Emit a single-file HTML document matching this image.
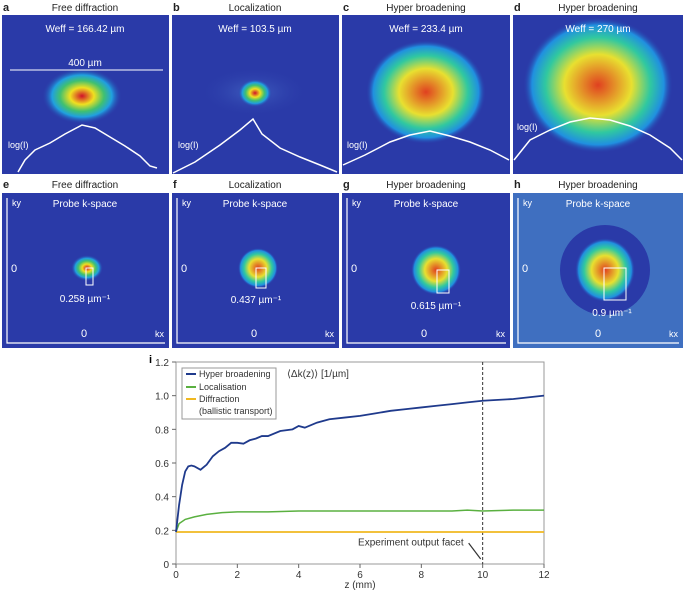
<!DOCTYPE html>
<html><head><meta charset="utf-8"><style>
body{margin:0;background:#fff;width:685px;height:595px;overflow:hidden;font-family:"Liberation Sans",sans-serif}
svg{display:block}
</style></head><body>
<svg width="685" height="595" viewBox="0 0 685 595" xmlns="http://www.w3.org/2000/svg">
<defs>
<radialGradient id="blob"><stop offset="0" stop-color="#d0102a"/><stop offset="0.3" stop-color="#f0e020"/><stop offset="0.55" stop-color="#40c070"/><stop offset="0.75" stop-color="#20a0e0"/><stop offset="1" stop-color="#2a3aa8" stop-opacity="0"/></radialGradient>
<radialGradient id="blobd"><stop offset="0" stop-color="#e04020"/><stop offset="0.45" stop-color="#e8e030"/><stop offset="0.7" stop-color="#30c8a0"/><stop offset="0.88" stop-color="#2090e0"/><stop offset="1" stop-color="#2a3aa8" stop-opacity="0"/></radialGradient>
<radialGradient id="halo"><stop offset="0" stop-color="#4060c0"/><stop offset="1" stop-color="#2a3aa8" stop-opacity="0"/></radialGradient>
</defs>
<g font-size="10" fill="#222">
<text x="3" y="11" font-weight="bold" font-size="11">a</text><text x="85" y="11" text-anchor="middle">Free diffraction</text>
<text x="173" y="11" font-weight="bold" font-size="11">b</text><text x="255" y="11" text-anchor="middle">Localization</text>
<text x="343" y="11" font-weight="bold" font-size="11">c</text><text x="426" y="11" text-anchor="middle">Hyper broadening</text>
<text x="514" y="11" font-weight="bold" font-size="11">d</text><text x="598" y="11" text-anchor="middle">Hyper broadening</text>
<text x="3" y="188" font-weight="bold" font-size="11">e</text><text x="85" y="188" text-anchor="middle">Free diffraction</text>
<text x="173" y="188" font-weight="bold" font-size="11">f</text><text x="255" y="188" text-anchor="middle">Localization</text>
<text x="343" y="188" font-weight="bold" font-size="11">g</text><text x="426" y="188" text-anchor="middle">Hyper broadening</text>
<text x="514" y="188" font-weight="bold" font-size="11">h</text><text x="598" y="188" text-anchor="middle">Hyper broadening</text>
</g>
<g>
<rect x="2" y="15" width="167" height="159" fill="#2a3aa8"/>
<ellipse cx="82" cy="96" rx="40" ry="28" fill="url(#blob)"/>
<text x="85" y="32" fill="#fff" font-size="10" text-anchor="middle">Weff = 166.42 µm</text>
<line x1="10" y1="70" x2="163" y2="70" stroke="#fff" stroke-width="1"/>
<text x="85" y="66" fill="#fff" font-size="10" text-anchor="middle">400 µm</text>
<text x="8" y="148" fill="#fff" font-size="9">log(I)</text>
<polyline points="18,172 25,160 35,150 50,143 65,134 82,125 95,128 110,137 125,146 140,156 150,166 157,168" fill="none" stroke="#fff" stroke-width="1.5"/>
</g>
<g>
<rect x="172" y="15" width="167" height="159" fill="#2a3aa8"/>
<ellipse cx="254" cy="92" rx="55" ry="25" fill="url(#halo)"/>
<ellipse cx="255" cy="93" rx="17" ry="14" fill="url(#blob)"/>
<text x="255" y="32" fill="#fff" font-size="10" text-anchor="middle">Weff = 103.5 µm</text>
<text x="178" y="148" fill="#fff" font-size="9">log(I)</text>
<polyline points="173,173 195,162 220,145 240,130 253,119 262,134 280,148 300,157 320,165 337,172" fill="none" stroke="#fff" stroke-width="1.5"/>
</g>
<g>
<rect x="342" y="15" width="168" height="159" fill="#2a3aa8"/>
<ellipse cx="426" cy="92" rx="60" ry="52" fill="url(#blobd)"/>
<text x="426" y="32" fill="#fff" font-size="10" text-anchor="middle">Weff = 233.4 µm</text>
<text x="347" y="148" fill="#fff" font-size="9">log(I)</text>
<polyline points="343,165 365,155 390,142 410,135 430,131 450,136 470,142 490,150 509,160" fill="none" stroke="#fff" stroke-width="1.5"/>
</g>
<g>
<rect x="513" y="15" width="170" height="159" fill="#2a3aa8"/>
<ellipse cx="598" cy="85" rx="75" ry="68" fill="url(#blobd)"/>
<text x="598" y="32" fill="#fff" font-size="10" text-anchor="middle">Weff = 270 µm</text>
<text x="517" y="130" fill="#fff" font-size="9">log(I)</text>
<polyline points="514,160 530,140 550,130 570,122 590,118 610,120 630,126 650,135 670,148 682,160" fill="none" stroke="#fff" stroke-width="1.5"/>
</g>
<g>
<rect x="2" y="193" width="167" height="155" fill="#2a3aa8"/>
<ellipse cx="87" cy="268" rx="16" ry="13" fill="url(#blob)"/>
<rect x="86" y="268" width="7" height="17" fill="none" stroke="#fff"/>
<text x="85" y="302" fill="#fff" font-size="10" text-anchor="middle">0.258 µm⁻¹</text>
<text x="85" y="207" fill="#fff" font-size="10" text-anchor="middle">Probe k-space</text>
</g>
<g>
<rect x="172" y="193" width="167" height="155" fill="#2a3aa8"/>
<ellipse cx="258" cy="268" rx="20" ry="20" fill="url(#blobd)"/>
<rect x="256" y="268" width="10" height="20" fill="none" stroke="#fff"/>
<text x="256" y="303" fill="#fff" font-size="10" text-anchor="middle">0.437 µm⁻¹</text>
<text x="255" y="207" fill="#fff" font-size="10" text-anchor="middle">Probe k-space</text>
</g>
<g>
<rect x="342" y="193" width="168" height="155" fill="#2a3aa8"/>
<ellipse cx="436" cy="270" rx="25" ry="25" fill="url(#blobd)"/>
<rect x="437" y="270" width="12" height="23" fill="none" stroke="#fff"/>
<text x="436" y="309" fill="#fff" font-size="10" text-anchor="middle">0.615 µm⁻¹</text>
<text x="426" y="207" fill="#fff" font-size="10" text-anchor="middle">Probe k-space</text>
</g>
<g>
<rect x="513" y="193" width="170" height="155" fill="#3f6fc0"/>
<circle cx="605" cy="270" r="45" fill="#2a3aa8"/>
<ellipse cx="605" cy="270" rx="30" ry="32" fill="url(#blobd)"/>
<rect x="604" y="268" width="22" height="32" fill="none" stroke="#fff"/>
<text x="612" y="316" fill="#fff" font-size="10" text-anchor="middle">0.9 µm⁻¹</text>
<text x="598" y="207" fill="#fff" font-size="10" text-anchor="middle">Probe k-space</text>
</g>
<g fill="#fff" font-size="11">
<g stroke="#fff" stroke-width="1.2" fill="none">
<polyline points="7,198 7,343 165,343"/><polyline points="177,198 177,343 335,343"/><polyline points="347,198 347,343 506,343"/><polyline points="518,198 518,343 679,343"/>
</g>
<text x="11" y="272">0</text><text x="81" y="337">0</text><text x="12" y="206" font-size="9">ky</text><text x="155" y="337" font-size="9">kx</text>
<text x="181" y="272">0</text><text x="251" y="337">0</text><text x="182" y="206" font-size="9">ky</text><text x="325" y="337" font-size="9">kx</text>
<text x="351" y="272">0</text><text x="421" y="337">0</text><text x="352" y="206" font-size="9">ky</text><text x="496" y="337" font-size="9">kx</text>
<text x="522" y="272">0</text><text x="595" y="337">0</text><text x="523" y="206" font-size="9">ky</text><text x="669" y="337" font-size="9">kx</text>
</g>
<text x="149" y="363" font-weight="bold" font-size="11">i</text>
<g id="chart"></g>
</svg>
<script>
const zHyper=[0,0.1,0.2,0.3,0.4,0.5,0.6,0.8,1.0,1.2,1.4,1.6,1.8,2.0,2.2,2.4,2.6,2.8,3.0,3.4,3.8,4.0,4.2,4.6,5.0,5.5,6,6.5,7,7.5,8,8.5,9,9.5,10,11,12];
const hyperVals=[0.19,0.35,0.47,0.55,0.58,0.585,0.58,0.56,0.59,0.64,0.67,0.69,0.72,0.72,0.715,0.735,0.745,0.76,0.76,0.79,0.80,0.82,0.81,0.84,0.86,0.87,0.88,0.895,0.91,0.92,0.93,0.94,0.95,0.96,0.97,0.98,1.0];
const zLoc=[0,0.1,0.3,0.6,1,1.5,2,3,4,5,6,7,8,9,9.5,10,11,12];
const locVals=[0.19,0.24,0.265,0.28,0.295,0.305,0.31,0.31,0.315,0.315,0.315,0.315,0.315,0.315,0.32,0.315,0.32,0.32];
const zDiff=[0,12];
const diffVals=[0.19,0.19];
const xTicks=[0,2,4,6,8,10,12];
const yTicks=[0,0.2,0.4,0.6,0.8,1.0,1.2];
const facetZ=10;
const NS="http://www.w3.org/2000/svg";
const g=document.getElementById('chart');
const X=z=>176+z*(544-176)/12, Y=v=>564-v*(564-362)/1.2;
function el(t,a,p){const e=document.createElementNS(NS,t);for(const k in a)e.setAttribute(k,a[k]);(p||g).appendChild(e);return e;}
const frame=el('rect',{x:X(0),y:Y(1.2),width:X(12)-X(0),height:Y(0)-Y(1.2),fill:'none',stroke:'#999','stroke-width':1});


xTicks.forEach(t=>{const l=el('line',{x1:X(t),x2:X(t),y1:Y(0),y2:Y(0)+4,stroke:'#666'});


const tx=el('text',{x:X(t),y:Y(0)+14,'text-anchor':'middle','font-size':10,fill:'#333'});tx.textContent=t;

});
yTicks.forEach(t=>{const l=el('line',{x1:X(0)-4,x2:X(0),y1:Y(t),y2:Y(t),stroke:'#666'});


const tx=el('text',{x:X(0)-7,y:Y(t)+4,'text-anchor':'end','font-size':10,fill:'#333'});tx.textContent=t===0?'0':t.toFixed(1);

});
const xt=el('text',{x:X(6),y:588,'text-anchor':'middle','font-size':10,fill:'#333'});xt.textContent='z (mm)';


const vl=el('line',{x1:X(facetZ),x2:X(facetZ),y1:Y(1.2),y2:Y(0),stroke:'#333','stroke-dasharray':'3,2'});


const ft=el('text',{x:X(facetZ)-19,y:Y(0.18)+12,'text-anchor':'end','font-size':10,fill:'#333'});ft.textContent='Experiment output facet';


const ar=el('line',{x1:X(facetZ)-14,y1:Y(0.1)-4,x2:X(facetZ)-2,y2:Y(0.03),stroke:'#333','stroke-width':1.2});


function series(zs,vs,c,n,w){const p=el('polyline',{points:zs.map((z,i)=>X(z)+','+Y(vs[i])).join(' '),fill:'none',stroke:c,'stroke-width':w});

}
series(zDiff,diffVals,'#f0b820','diffraction-line',1.8);
series(zLoc,locVals,'#5ab040','localisation-line',1.5);
series(zHyper,hyperVals,'#1f3a8c','hyper-broadening-line',1.8);
const tt=el('text',{x:X(6)-42,y:Y(1.2)+15,'text-anchor':'middle','font-size':10,fill:'#333'});tt.textContent='⟨Δk(z)⟩ [1/µm]';


const lg=el('rect',{x:182,y:368,width:94,height:51,fill:'#fff',stroke:'#999'});


[['Hyper broadening','#1f3a8c',377],['Localisation','#5ab040',390],['Diffraction','#f0b820',402]].forEach(([t,c,y])=>{
const l=el('line',{x1:186,x2:196,y1:y-3,y2:y-3,stroke:c,'stroke-width':2});


const tx=el('text',{x:199,y:y,'font-size':9,fill:'#333'});tx.textContent=t;

});
const t2=el('text',{x:199,y:414,'font-size':9,fill:'#333'});t2.textContent='(ballistic transport)';


</script>
</body></html>
